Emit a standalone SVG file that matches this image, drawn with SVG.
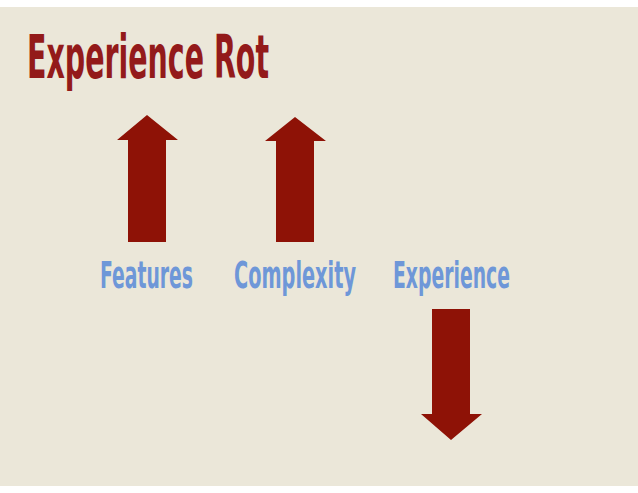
<svg xmlns="http://www.w3.org/2000/svg" width="638" height="493" viewBox="0 0 638 493">
<style>
.t{font-family:"DejaVu Sans Condensed","Liberation Sans",sans-serif;font-weight:bold}
.lbl{fill:#6E97D8;font-size:38px}
.arr{fill:#8E1206}
</style>
<rect width="638" height="493" fill="#ffffff"/>
<rect y="7" width="638" height="479" fill="#EBE7D9"/>
<text class="t" x="27" y="78" font-size="60" fill="#931A1A" textLength="242" lengthAdjust="spacingAndGlyphs">Experience Rot</text>
<g id="arrows">
<polygon id="a1" class="arr" points="147,115 178,140 166,140 166,242 128,242 128,140 117,140"/>
<polygon id="a2" class="arr" points="295,117 326,141 314,141 314,242 276,242 276,141 265,141"/>
<polygon id="a3" class="arr" points="432,309 470,309 470,414 482,414 451,440 421,414 432,414"/>
</g>
<g id="n1"><text class="t lbl" x="100" y="288" textLength="93" lengthAdjust="spacingAndGlyphs">Features</text></g>
<g id="n2"><text class="t lbl" x="234" y="288" textLength="122" lengthAdjust="spacingAndGlyphs">Complexity</text></g>
<g id="n3"><text class="t lbl" x="393" y="288" textLength="117" lengthAdjust="spacingAndGlyphs">Experience</text></g>
</svg>
